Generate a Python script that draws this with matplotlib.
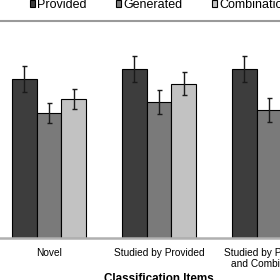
import numpy as np
import matplotlib.pyplot as plt

plt.rcParams['font.family'] = ['Liberation Sans', 'DejaVu Sans']

# data (y axis not shown, proportions assumed)
categories = ["Novel", "Studied by Provided", "Studied by Provided\nand Combination"]
series = ["Provided", "Generated", "Combination"]
provided = [0.733, 0.779, 0.779]
generated = [0.576, 0.627, 0.590]
combination = [0.641, 0.710, 0.700]
provided_err = [0.060, 0.062, 0.062]
generated_err = [0.048, 0.055, 0.055]
combination_err = [0.046, 0.053, 0.053]

colors = ["#3d3d3d", "#7a7a7a", "#c2c2c2"]

fig = plt.figure(figsize=(2.8, 2.8), dpi=100)
ax = fig.add_axes([0.0, 0.15, 1.0, 0.775])

x = np.arange(len(categories))
w = 0.223
values = [provided, generated, combination]
errors = [provided_err, generated_err, combination_err]
for i, (vals, errs) in enumerate(zip(values, errors)):
    ax.bar(x + (i - 1) * w, vals, w, color=colors[i], edgecolor="black",
           linewidth=0.8, label=series[i], zorder=2)
    ax.errorbar(x + (i - 1) * w, vals, yerr=errs, fmt="none", ecolor="#1a1a1a",
                elinewidth=1.0, capsize=1.8, capthick=1.0, zorder=3)

ax.set_xlim(-49 / 110, (280 - 49) / 110)
ax.set_ylim(0, 1.0)
ax.set_yticks([])
ax.set_xticks(x)
ax.set_xticklabels(categories, fontsize=7.3)
ax.tick_params(axis="x", length=0, pad=7)

for side in ["left", "right"]:
    ax.spines[side].set_visible(False)
ax.spines["bottom"].set_color("#b0b0b0")
ax.spines["bottom"].set_linewidth(1.8)
ax.spines["top"].set_color("#9a9a9a")
ax.spines["top"].set_linewidth(1.5)

ax.set_xlabel("Classification Items", fontsize=8.4, fontweight="bold")
ax.xaxis.set_label_coords(1, -0.16, transform=ax.get_xaxis_transform())
ax.xaxis.label.set_va("top")

fig.legend(loc="center left", bbox_to_anchor=(30 / 280, 1 - 5 / 280), ncol=3,
           frameon=False, fontsize=9, handlelength=0.4, handleheight=0.4,
           handletextpad=0.2, columnspacing=2.35, borderpad=0, borderaxespad=0)

fig.savefig("out.png", dpi=100)
